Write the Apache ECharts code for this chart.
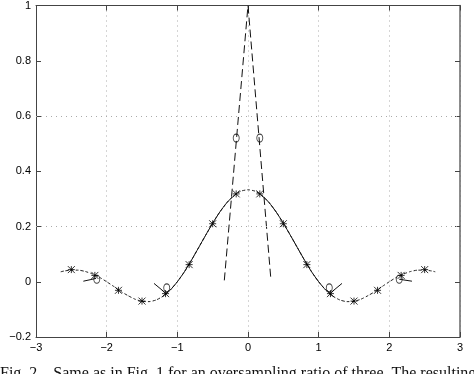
<!DOCTYPE html>
<html>
<head>
<meta charset="utf-8">
<script src="https://cdn.jsdelivr.net/npm/echarts@6/dist/echarts.min.js"></script>
<style>
html,body{margin:0;padding:0;background:#fff;}
#chart{width:474px;height:374px;}
</style>
</head>
<body>
<div id="chart"></div>
<script>
// ---- data ----
var curveX = [-2.65,-2.6,-2.5,-2.4,-2.3,-2.2,-2.1,-2.0,-1.9,-1.8,-1.7,-1.6,-1.5,-1.4,-1.3,-1.2,-1.1,-1.0,-0.9,-0.8,-0.7,-0.6,-0.5,-0.4,-0.3,-0.2,-0.1,0,
              0.1,0.2,0.3,0.4,0.5,0.6,0.7,0.8,0.9,1.0,1.1,1.2,1.3,1.4,1.5,1.6,1.7,1.8,1.9,2.0,2.1,2.2,2.3,2.4,2.5,2.6,2.65];
var curveY = [0.036,0.039,0.042,0.042,0.037,0.028,0.016,0.000,-0.017,-0.035,-0.050,-0.063,-0.071,-0.072,-0.066,-0.052,-0.030,0.000,0.036,0.078,0.123,0.168,0.212,0.252,0.286,0.312,0.328,0.333,
              0.328,0.312,0.286,0.252,0.212,0.168,0.123,0.078,0.036,0.000,-0.030,-0.052,-0.066,-0.072,-0.071,-0.063,-0.050,-0.035,-0.017,0.000,0.016,0.028,0.037,0.042,0.042,0.039,0.036];
var starX = [-2.5,-2.167,-1.833,-1.5,-1.167,-0.833,-0.5,-0.167,0.167,0.5,0.833,1.167,1.5,1.833,2.167,2.5];
var starY = [0.044,0.023,-0.031,-0.070,-0.043,0.062,0.210,0.318,0.318,0.210,0.062,-0.043,-0.070,-0.031,0.023,0.044];
var circX = [-2.14,-1.15,-0.167,0.167,1.15,2.14];
var circY = [0.009,-0.022,0.52,0.52,-0.022,0.009];
var triX = [-0.335,0,0.325];
var triY = [0.005,1,0.005];
var segs = [
  [[-1.33,-0.006],[-1.17,-0.040]],
  [[1.17,-0.040],[1.33,-0.006]],
  [[-2.33,0.002],[-2.15,0.012]],
  [[2.14,0.009],[2.32,0.002]]
];
var xTicks = [-3,-2,-1,0,1,2,3];
var yTicks = [-0.2,0,0.2,0.4,0.6,0.8,1];
var hGrid = [0.2,0.6];
var caption = 'Fig. 2.   Same as in Fig. 1 for an oversampling ratio of three. The resulting';

function zip(a,b){return a.map(function(v,i){return [v,b[i]];});}
var full = zip(curveX,curveY);
var solidL = full.filter(function(p){return p[0]>=-1.2 && p[0]<=-0.2;});
var solidR = full.filter(function(p){return p[0]>=0.2 && p[0]<=1.2;});

var chart = echarts.init(document.getElementById('chart'), null, {renderer:'canvas'});
var axisCol = '#444';
var lblFont = {color:'#000', fontSize:11, fontFamily:'Liberation Sans, Arial, sans-serif'};
function fmt(v){var s = (+v.toFixed(1)).toString(); return s.replace('-', '\u2212');}

var series = [
  {type:'line', data:full, showSymbol:false, smooth:0.2, lineStyle:{color:'#222', width:1, type:[3,2]}, silent:true, z:3,
   markLine:{silent:true, symbol:'none', label:{show:false},
     lineStyle:{color:'#aaa', type:[1,4], width:1},
     data: hGrid.map(function(v){return {yAxis:v};})}},
  {type:'line', data:solidL, showSymbol:false, smooth:0.2, lineStyle:{color:'#111', width:1}, silent:true, z:4},
  {type:'line', data:solidR, showSymbol:false, smooth:0.2, lineStyle:{color:'#111', width:1}, silent:true, z:4},
  {type:'line', data:zip(triX,triY), showSymbol:false, lineStyle:{color:'#111', width:1, type:[8,4]}, silent:true, z:4},
  {type:'scatter', data:zip(starX,starY), symbol:'path://M0,0L10,10M10,0L0,10M5,0L5,10M0,5L10,5', symbolSize:7,
   itemStyle:{color:'rgba(0,0,0,0)', borderColor:'#000', borderWidth:1}, silent:true, z:5},
  {type:'scatter', data:zip(circX,circY), symbol:'circle', symbolSize:[6,8],
   itemStyle:{color:'rgba(0,0,0,0)', borderColor:'#111', borderWidth:1}, silent:true, z:5}
];
segs.forEach(function(s){
  series.push({type:'line', data:s, showSymbol:false, lineStyle:{color:'#111', width:1}, silent:true, z:4});
});

chart.setOption({
  animation:false,
  backgroundColor:'#fff',
  grid:{left:36, right:14, top:4, bottom:37, containLabel:false},
  xAxis:[
    {type:'value', min:-3, max:3, interval:1, position:'bottom',
     axisLine:{show:true, onZero:false, lineStyle:{color:axisCol, width:1}},
     axisTick:{show:true, inside:true, length:5, lineStyle:{color:axisCol}},
     axisLabel:Object.assign({margin:5, formatter:fmt}, lblFont),
     splitLine:{show:true, lineStyle:{color:'#aaa', type:[1,4], width:1}}},
    {type:'value', min:-3, max:3, interval:1, position:'top',
     axisLine:{show:true, onZero:false, lineStyle:{color:axisCol, width:1}},
     axisTick:{show:true, inside:true, length:5, lineStyle:{color:axisCol}},
     axisLabel:{show:false}, splitLine:{show:false}}
  ],
  yAxis:[
    {type:'value', min:-0.2, max:1, interval:0.2, position:'left',
     axisLine:{show:true, onZero:false, lineStyle:{color:axisCol, width:1}},
     axisTick:{show:true, inside:true, length:5, lineStyle:{color:axisCol}},
     axisLabel:Object.assign({margin:5, formatter:fmt}, lblFont),
     splitLine:{show:false}},
    {type:'value', min:-0.2, max:1, interval:0.2, position:'right',
     axisLine:{show:true, onZero:false, lineStyle:{color:'#666', width:1.5}},
     axisTick:{show:true, inside:true, length:5, lineStyle:{color:axisCol}},
     axisLabel:{show:false}, splitLine:{show:false}}
  ],
  graphic:[
    {type:'text', left:0, top:366, silent:true,
     style:{text:caption, fill:'#111', font:'16px "Liberation Serif", "DejaVu Serif", serif'}}
  ],
  series:series
});
</script>
</body>
</html>
